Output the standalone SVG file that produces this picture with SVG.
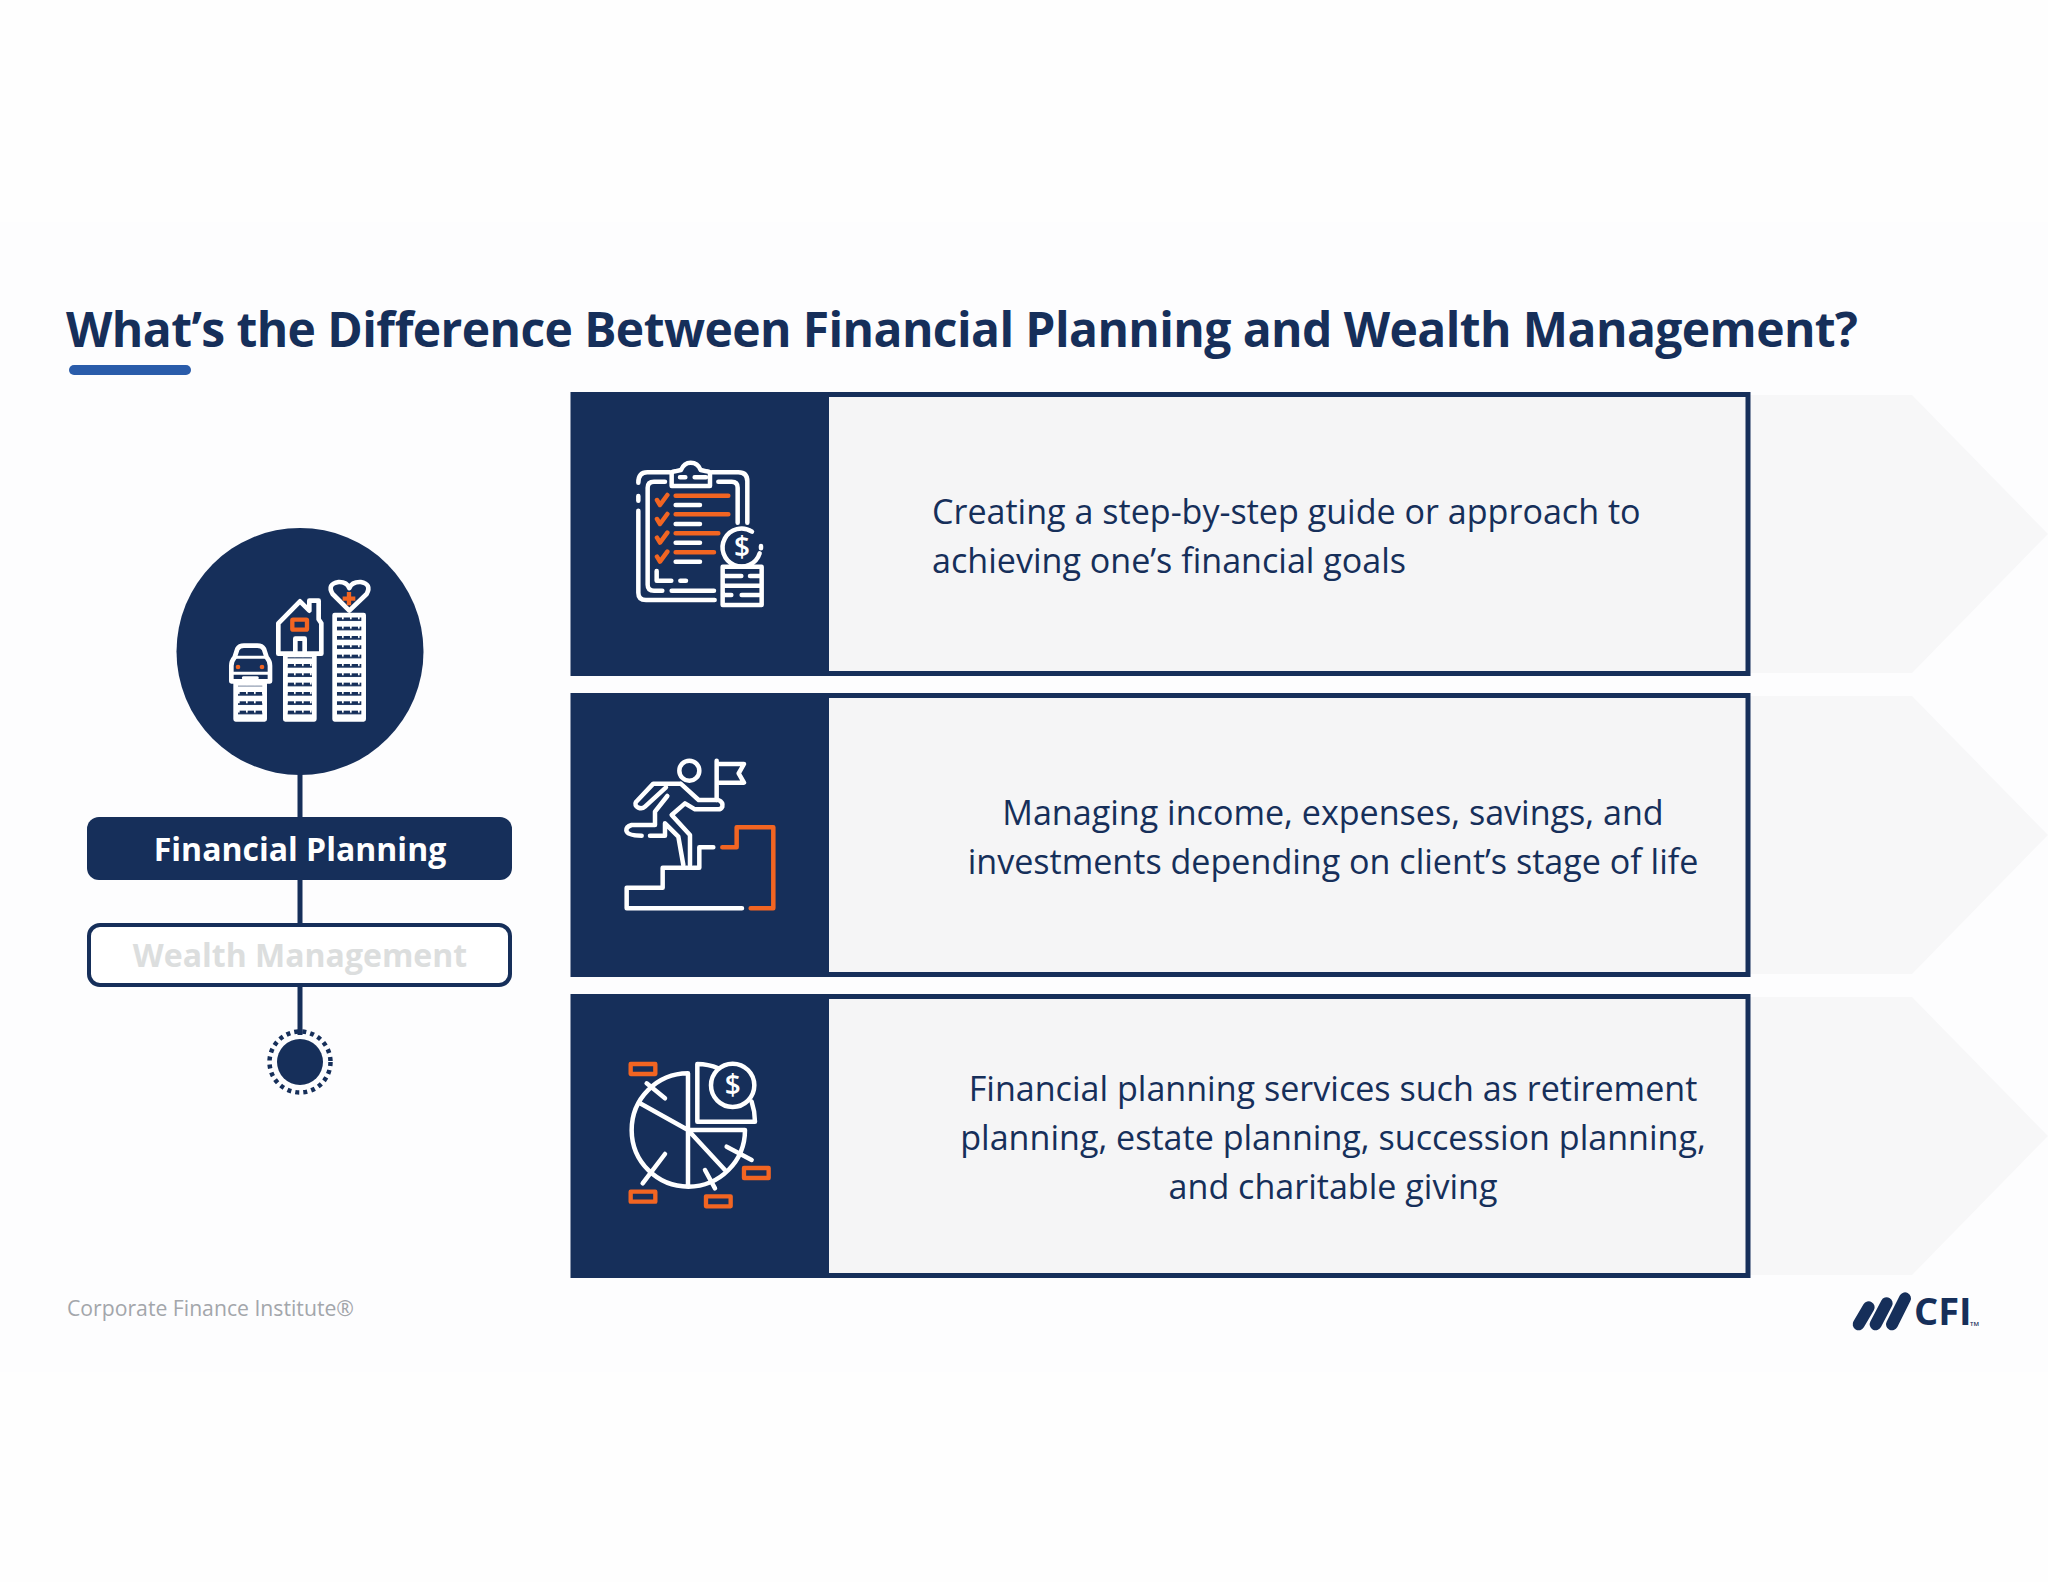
<svg xmlns="http://www.w3.org/2000/svg" width="2048" height="1582" viewBox="0 0 2048 1582">
<style>
text{font-family:"Open Sans","Liberation Sans",sans-serif}
.title{font-size:48px;font-weight:700;fill:#162f5a}
.body{font-size:34.1px;fill:#162f5a}
.mid{text-anchor:middle}
.card{fill:#f5f5f6;stroke:#162f5a;stroke-width:5}
.panel{fill:#162f5a}
.chev{fill:#f7f7f8}
.w{fill:none;stroke:#fff;stroke-width:13.5;stroke-linecap:round;stroke-linejoin:round}
.o{fill:none;stroke:#f26522;stroke-width:13.5;stroke-linecap:round;stroke-linejoin:round}
.dollar{font-size:84px;font-weight:600;fill:#fff;text-anchor:middle}
.conn{stroke:#162f5a;stroke-width:5;fill:none}
</style>
<defs>
<pattern id="slots" patternUnits="userSpaceOnUse" x="0" y="352" width="24" height="28">
<rect width="24" height="28" fill="#fff"/>
<rect y="0" width="24" height="11" fill="#162f5a"/>
<rect x="0" y="0" width="5" height="6" fill="#fff"/>
</pattern>
</defs>
<rect width="2048" height="1582" fill="#fefefe"/>
<rect y="222" width="2048" height="1150" fill="#fdfdfe"/>
<g id="title">
<text class="title" x="66" y="347" textLength="1792">What’s the Difference Between Financial Planning and Wealth Management?</text>
<rect x="69" y="365" width="122" height="10" rx="5" fill="#2a5caa"/>
</g>
<g id="connectors">
<path class="conn" d="M300 770V1035"/>
</g>
<g id="hub">
<circle cx="300" cy="651.500" r="123.500" fill="#162f5a"/>
<g transform="translate(150 500) scale(.3333)">
<g class="w" style="stroke-width:14">
<rect x="257" y="550" width="87" height="108" fill="url(#slots)"/>
<rect x="406" y="465" width="87" height="193" fill="url(#slots)"/>
<rect x="554" y="345" width="87" height="313" fill="url(#slots)"/>
<path d="M244 544V497Q244 484 254 472L262 447Q268 437 282 437H322Q336 437 342 447L350 472Q360 484 360 497V544Z" fill="#162f5a"/>
<path d="M254 472H350M244 520H360M280 533H322" style="stroke-width:9"/>
<path d="M385 461V370L450 304L478 332V302H506V358L514 370V461Z" fill="#162f5a"/>
<path d="M436 461V416H464V461" />
<path d="M598 332L548 282Q530 252 566 246Q590 245 598 264Q606 245 632 246Q666 252 650 282Z" fill="#162f5a"/>
</g>
<rect x="427" y="359" width="44" height="30" fill="none" stroke="#f26522" stroke-width="13" rx="2"/>
<path d="M597 276V316M578 296H616" class="o" style="stroke-width:13;stroke-linecap:butt"/>
<circle cx="264" cy="501" r="7" fill="#f26522"/>
<circle cx="336" cy="501" r="7" fill="#f26522"/>
</g>
</g>
<g id="financial-planning">
<rect x="87" y="817" width="425" height="63" rx="12" fill="#162f5a"/>
<text x="300" y="861" class="mid" font-size="32" font-weight="700" fill="#fff">Financial Planning</text>
</g>
<g id="wealth-management">
<rect x="89" y="925" width="421" height="60" rx="11" fill="#fff" stroke="#162f5a" stroke-width="4"/>
<text x="300" y="967" class="mid" font-size="32" font-weight="700" fill="#dcdede">Wealth Management</text>
</g>
<g id="end-dot">
<circle cx="300" cy="1062" r="23" fill="#162f5a"/>
<circle cx="300" cy="1062" r="30.500" fill="none" stroke="#162f5a" stroke-width="4.500" stroke-dasharray="4 4.100"/>
</g>
<g id="card-1">
<path class="chev" d="M1750 395H1912L2048 534L1912 673H1750Z"/>
<rect class="card" x="573" y="394.500" width="1175" height="279"/>
<rect class="panel" x="571" y="392" width="258" height="284"/>
<g transform="translate(610 440) scale(.3333)">
<g class="w">
<path d="M85 212V458Q85 480 108 480H314M85 168V182M85 128Q85 97 112 97H180M305 97H385Q412 97 412 124V248"/>
<path d="M165 125H132Q113 125 113 143V434Q113 452 132 452H157M185 452H312M325 125H365Q383 125 383 143V248"/>
<path d="M185 138V100Q185 95 195 94L213 90Q222 68 242 68Q264 68 272 90L290 94Q300 95 300 100V138Z"/>
<path d="M210 112H226M254 112H288M197 195H270M197 252H270M197 308H270M197 365H270M140 393V422H184M211 422H228"/>
<path d="M426 275A57 57 0 1 0 449 340M453 318V325" />
<path d="M338 380H455V495H338ZM345 408H394M420 408H450M345 437H450M345 465H364M395 465H450"/>
</g>
<text class="dollar" x="396" y="352">$</text>
<g class="o">
<path d="M197 167H355M197 223H355M197 280H325M197 337H312"/>
<path d="M141 180L150 195L172 165M141 237L150 252L172 222M141 293L150 308L172 278M141 350L150 365L172 335"/>
</g>
</g>
<text class="body" x="932" y="524">Creating a step-by-step guide or approach to</text>
<text class="body" x="932" y="573">achieving one’s financial goals</text>
</g>
<g id="card-2">
<path class="chev" d="M1750 696H1912L2048 835L1912 974H1750Z"/>
<rect class="card" x="573" y="695.500" width="1175" height="279"/>
<rect class="panel" x="571" y="693" width="258" height="284"/>
<g transform="translate(610 740) scale(.3333)">
<g class="w">
<circle cx="238" cy="92" r="30"/>
<path d="M320 62V180M320 72H402L386 100L402 128H320"/>
<path d="M212 131H130L78 186Q72 196 85 203Q96 208 105 200L168 142M212 131L266 180H325Q340 186 337 200Q333 208 325 208H255L225 190L185 225L240 285V375"/>
<path d="M172 168L135 215V255H65Q48 260 49 272Q52 287 95 287M120 287H165V250L205 290L220 375"/>
<path d="M310 322H268V383H158V443H50V505H396"/>
</g>
<path class="o" d="M337 322H380V262H490V505H422"/>
</g>
<text class="body mid" x="1333" y="825">Managing income, expenses, savings, and</text>
<text class="body mid" x="1333" y="874">investments depending on client’s stage of life</text>
</g>
<g id="card-3">
<path class="chev" d="M1750 997H1912L2048 1136L1912 1275H1750Z"/>
<rect class="card" x="573" y="996.500" width="1175" height="279"/>
<rect class="panel" x="571" y="994" width="258" height="284"/>
<g transform="translate(610 1040) scale(.3333)">
<g class="w">
<path d="M234 100A170 170 0 1 0 405 270H234ZM234 270V440M90 190L234 270L345 390"/>
<path d="M110 130L165 175M165 342L98 430M350 320L425 360M285 390L315 445"/>
<path d="M262 72V245H435Q435 215 425 185M262 72Q295 72 325 85"/>
<circle cx="368" cy="136" r="65" fill="#162f5a"/>
</g>
<text class="dollar" x="368" y="165">$</text>
<g fill="none" stroke="#f26522" stroke-width="13" stroke-linejoin="round">
<rect x="62" y="72" width="74" height="30"/>
<rect x="62" y="455" width="74" height="30"/>
<rect x="402" y="384" width="74" height="30"/>
<rect x="288" y="469" width="74" height="30"/>
</g>
</g>
<text class="body mid" x="1333" y="1101">Financial planning services such as retirement</text>
<text class="body mid" x="1333" y="1150">planning, estate planning, succession planning,</text>
<text class="body mid" x="1333" y="1199">and charitable giving</text>
</g>
<g id="footer">
<text x="67" y="1316" font-size="21.200" fill="#a3a6ab">Corporate Finance Institute®</text>
</g>
<g id="logo">
<g transform="translate(1820 1270) scale(.3333)">
<path d="M116 163L146 112M167 163L200 100M216 163L255 85" fill="none" stroke="#162f5a" stroke-width="36" stroke-linecap="round"/>
</g>
<text x="1914" y="1325" font-size="38" font-weight="700" fill="#162f5a">CFI</text>
<text x="1970" y="1326" font-size="6" font-weight="600" fill="#162f5a">TM</text>
</g>
</svg>
